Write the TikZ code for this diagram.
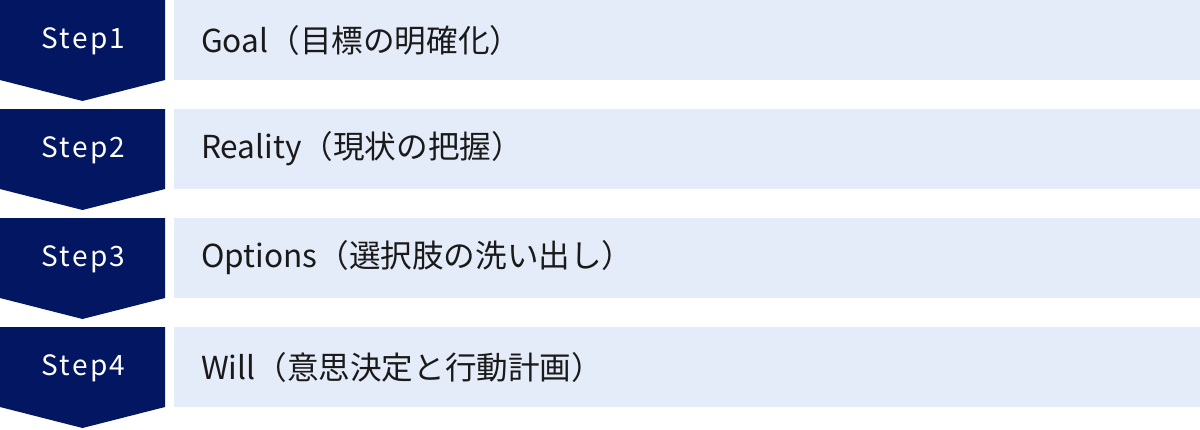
\documentclass[tikz,border=0pt]{standalone}
\usepackage{fontspec}
\setmainfont{Noto Sans CJK JP}
\newfontfamily\stepfont[LetterSpace=8]{Noto Sans CJK JP}
\definecolor{navy}{RGB}{3,22,98}
\definecolor{lightbox}{RGB}{229,236,249}
\definecolor{txt}{RGB}{26,26,26}
\tikzset{
  chev/.style={fill=navy, draw=none},
  lbox/.style={fill=lightbox, draw=none},
  steplabel/.style={text=white, font=\stepfont\fontsize{28}{30}\selectfont, inner sep=0pt, anchor=center},
  desclabel/.style={text=txt, font=\fontsize{31.6}{36}\selectfont, inner sep=0pt, anchor=west},
}
\begin{document}
\begin{tikzpicture}[x=1pt,y=-1pt]
\useasboundingbox (0,0) rectangle (1200,429);
\foreach \i/\d in {0/{Goal（目標の明確化）},1/{Reality（現状の把握）},2/{Options（選択肢の洗い出し）},3/{Will（意思決定と行動計画）}}{
  \pgfmathsetmacro{\t}{109*\i}
  \fill[chev] (0,\t) -- (165,\t) -- (165,\t+80) -- (82.5,\t+101) -- (0,\t+80) -- cycle;
  \fill[lbox] (174,\t) rectangle (1200,\t+80);
  \pgfmathtruncatemacro{\n}{\i+1}
  \node[steplabel] (step\n) at (83.5,\t+41.5) {Step\n};
  \node[desclabel] (desc\n) at (201,\t+40) {\d};
}
\end{tikzpicture}
\end{document}
